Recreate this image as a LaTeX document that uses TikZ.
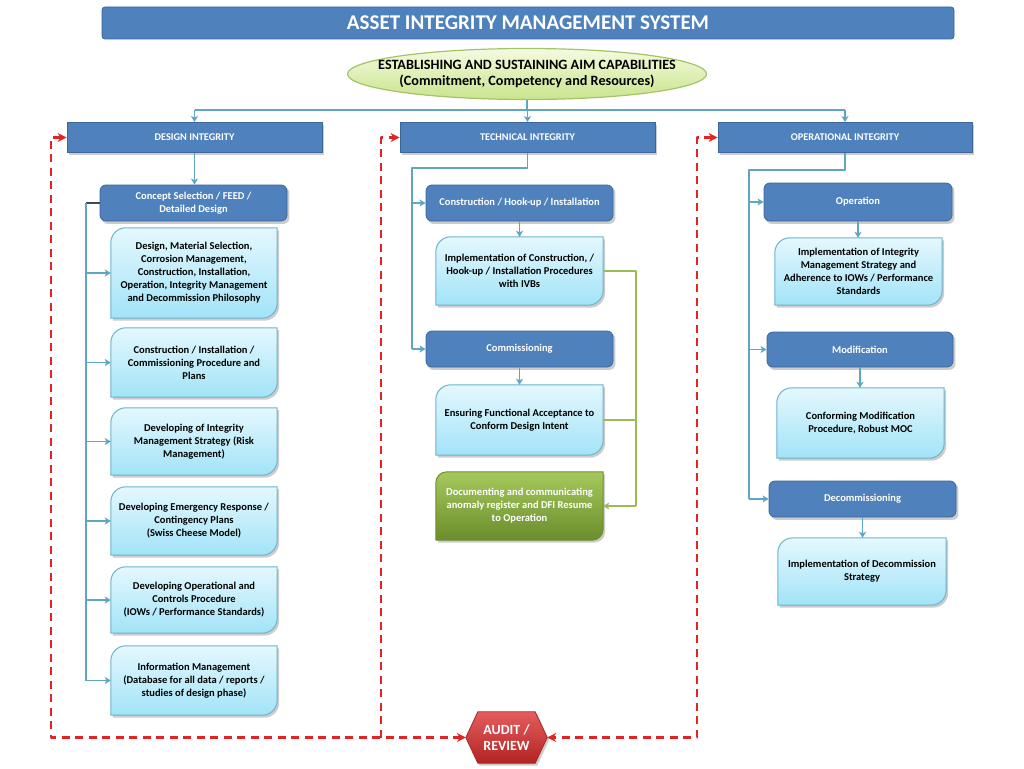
\documentclass[tikz,border=0pt]{standalone}
\usepackage{fontspec}
\setmainfont{Carlito}
\usetikzlibrary{arrows.meta,backgrounds,calc,shapes.geometric}
\definecolor{hblue}{HTML}{4F81BD}
\definecolor{hborder}{HTML}{3B679A}
\definecolor{cconn}{HTML}{5FA6C0}
\definecolor{cdark}{HTML}{3C4A55}
\definecolor{lbtop}{HTML}{E4F8FE}
\definecolor{lbbot}{HTML}{A2E3F8}
\definecolor{lbborder}{HTML}{6DB4CC}
\definecolor{grtop}{HTML}{A6C95C}
\definecolor{grbot}{HTML}{6A8D2C}
\definecolor{grborder}{HTML}{6E8F33}
\definecolor{gline}{HTML}{9BBB59}
\definecolor{rline}{HTML}{E22424}
\definecolor{etop}{HTML}{F5FBE0}
\definecolor{ebot}{HTML}{C9E48C}
\definecolor{eborder}{HTML}{A5C468}
\definecolor{hxtop}{HTML}{E45C5C}
\definecolor{hxbot}{HTML}{B32424}
\definecolor{hxborder}{HTML}{A52A2A}

% shape with rounded top-left and bottom-right corners
% #1 node, #2 style, #3 radius, #4 control offset
\newcommand\dshape[4]{%
\fill[black,opacity=.2] ([shift={(2pt,-2.5pt)}]#1.south west) -- ([shift={(2pt,-2.5pt)},yshift=-#3]#1.north west) .. controls ([shift={(2pt,-2.5pt)},yshift=-#4]#1.north west) and ([shift={(2pt,-2.5pt)},xshift=#4]#1.north west) .. ([shift={(2pt,-2.5pt)},xshift=#3]#1.north west) -- ([shift={(2pt,-2.5pt)}]#1.north east) -- ([shift={(2pt,-2.5pt)},yshift=#3]#1.south east) .. controls ([shift={(2pt,-2.5pt)},yshift=#4]#1.south east) and ([shift={(2pt,-2.5pt)},xshift=-#4]#1.south east) .. ([shift={(2pt,-2.5pt)},xshift=-#3]#1.south east) -- cycle;
\path[#2] (#1.south west) -- ([yshift=-#3]#1.north west) .. controls ([yshift=-#4]#1.north west) and ([xshift=#4]#1.north west) .. ([xshift=#3]#1.north west) -- (#1.north east) -- ([yshift=#3]#1.south east) .. controls ([yshift=#4]#1.south east) and ([xshift=-#4]#1.south east) .. ([xshift=-#3]#1.south east) -- cycle;
}
\newcommand\rshadow[2]{%
\fill[black,opacity=.2,rounded corners=#2] ([shift={(2pt,-2.5pt)}]#1.south west) rectangle ([shift={(2pt,-2.5pt)}]#1.north east);
}

\begin{document}
\begin{tikzpicture}[x=1pt,y=-1pt,
  txt/.style={font=\fontsize{10.5}{13}\selectfont\bfseries, align=center, inner sep=0pt},
  hdr/.style={draw=hborder, fill=hblue, text=white, line width=.8pt, inner sep=0pt,
     font=\fontsize{10.3}{12}\selectfont\bfseries},
  subbox/.style={txt, draw=hborder, fill=hblue, text=white, line width=.8pt, rounded corners=6pt},
  lbox/.style={txt, text=black},
  lshape/.style={top color=lbtop, bottom color=lbbot, draw=lbborder, line width=1pt},
  conn/.style={draw=cconn, line width=1.8pt, line join=round},
  arr/.style={-{Stealth[length=6pt,width=7pt,inset=1.5pt]}},
  gconn/.style={draw=gline, line width=1.6pt, line join=round},
  reddash/.style={draw=rline, line width=2.2pt, dash pattern=on 8pt off 5.5pt, line join=round},
  rtip/.style={{Stealth[length=9pt,width=9pt,inset=3pt]}-{Stealth[length=9pt,width=9pt,inset=3pt]}},
  rtipend/.style={-{Stealth[length=9pt,width=9pt,inset=3pt]}}
]
\useasboundingbox (0,0) rectangle (1024,768);
\begin{scope}[on background layer]
\fill[white] (0,0) rectangle (1024,768);
\end{scope}

% title and top
\node[draw=hborder, fill=hblue, text=white, rounded corners=3pt, line width=.8pt, inner sep=0pt,
  minimum width=852pt, minimum height=32pt, font=\fontsize{21}{24}\selectfont\bfseries] (title) at (528,23) {ASSET INTEGRITY MANAGEMENT SYSTEM};
\node[inner sep=0pt, minimum width=359pt, minimum height=51pt, align=center,
  font=\fontsize{14.2}{16.5}\selectfont\bfseries] (aim) at (527,74)
  {ESTABLISHING AND SUSTAINING AIM CAPABILITIES\\(Commitment, Competency and Resources)};

% integrity headers
\node[hdr, minimum width=255pt, minimum height=30pt] (DI) at (194.5,137.5) {DESIGN INTEGRITY};
\node[hdr, minimum width=255pt, minimum height=30pt] (TI) at (527.5,137.5) {TECHNICAL INTEGRITY};
\node[hdr, minimum width=254pt, minimum height=30pt] (OI) at (845,137.5) {OPERATIONAL INTEGRITY};

% left column
\node[subbox, minimum width=187pt, minimum height=36pt] (CS) at (193.5,203) {Concept Selection / FEED /\\Detailed Design};
\node[lbox, minimum width=166pt, minimum height=90pt] (L1) at (194,273) {Design, Material Selection,\\Corrosion Management,\\Construction, Installation,\\Operation, Integrity Management\\and Decommission Philosophy};
\node[lbox, minimum width=166pt, minimum height=69pt] (L2) at (194,362.5) {Construction / Installation /\\Commissioning Procedure and\\Plans};
\node[lbox, minimum width=166pt, minimum height=67pt] (L3) at (194,441.5) {Developing of Integrity\\Management Strategy (Risk\\Management)};
\node[lbox, minimum width=166pt, minimum height=68pt] (L4) at (194,521) {Developing Emergency Response /\\Contingency Plans\\(Swiss Cheese Model)};
\node[lbox, minimum width=166pt, minimum height=66pt] (L5) at (194,600) {Developing Operational and\\Controls Procedure\\(IOWs / Performance Standards)};
\node[lbox, minimum width=166pt, minimum height=69pt] (L6) at (194,680.5) {Information Management\\(Database for all data / reports /\\studies of design phase)};

% middle column
\node[subbox, minimum width=187pt, minimum height=36pt] (MCon) at (519.5,203) {Construction / Hook-up / Installation};
\node[lbox, minimum width=167pt, minimum height=68pt] (MImpl) at (519.5,271) {Implementation of Construction, /\\Hook-up / Installation Procedures\\with IVBs};
\node[subbox, minimum width=187pt, minimum height=36pt] (MCom) at (519.5,349) {Commissioning};
\node[lbox, minimum width=167pt, minimum height=70pt] (MEns) at (519.5,420) {Ensuring Functional Acceptance to\\Conform Design Intent};
\node[txt, text=white, minimum width=167pt, minimum height=68pt] (MGreen) at (519.5,506) {Documenting and communicating\\anomaly register and DFI Resume\\to Operation};

% right column
\node[subbox, minimum width=188pt, minimum height=38pt] (ROp) at (858,202) {Operation};
\node[lbox, minimum width=167pt, minimum height=67pt] (RImpl) at (858.5,271.5) {Implementation of Integrity\\Management Strategy and\\Adherence to IOWs / Performance\\Standards};
\node[subbox, minimum width=186pt, minimum height=35pt] (RMod) at (860,349.5) {Modification};
\node[lbox, minimum width=167pt, minimum height=70pt] (RConf) at (860.5,423) {Conforming Modification\\Procedure, Robust MOC};
\node[subbox, minimum width=187pt, minimum height=36pt] (RDec) at (862.5,499) {Decommissioning};
\node[lbox, minimum width=168pt, minimum height=67pt] (RDImpl) at (862,571.5) {Implementation of Decommission\\Strategy};

% audit
\node[txt, text=white, minimum width=81pt, minimum height=51pt, font=\fontsize{14}{16.5}\selectfont\bfseries] (audit) at (506.5,737.5) {AUDIT /\\REVIEW};

% shapes behind
\begin{scope}[on background layer]
\path[top color=etop, bottom color=ebot, draw=eborder, line width=1.2pt] (aim.center) ellipse [x radius=179.5pt, y radius=25.5pt];
\rshadow{DI}{0pt}\rshadow{TI}{0pt}\rshadow{OI}{0pt}
\rshadow{CS}{6pt}\rshadow{MCon}{6pt}\rshadow{MCom}{6pt}
\rshadow{ROp}{6pt}\rshadow{RMod}{6pt}\rshadow{RDec}{6pt}
\foreach \n in {L1,L2,L3,L4,L5,L6,MImpl,MEns,RImpl,RConf,RDImpl}{\dshape{\n}{lshape}{15pt}{6.7pt}}
\dshape{MGreen}{top color=grtop, bottom color=grbot, draw=grborder, line width=1pt}{11pt}{5pt}
\fill[black,opacity=.2] ([shift={(2pt,-2.5pt)}]audit.west) -- ([shift={(2pt,-2.5pt)},xshift=12pt]audit.north west) -- ([shift={(2pt,-2.5pt)},xshift=-12pt]audit.north east) -- ([shift={(2pt,-2.5pt)}]audit.east) -- ([shift={(2pt,-2.5pt)},xshift=-12pt]audit.south east) -- ([shift={(2pt,-2.5pt)},xshift=12pt]audit.south west) -- cycle;
\path[top color=hxtop, bottom color=hxbot, draw=hxborder, line width=.8pt] (audit.west) -- ([xshift=12pt]audit.north west) -- ([xshift=-12pt]audit.north east) -- (audit.east) -- ([xshift=-12pt]audit.south east) -- ([xshift=12pt]audit.south west) -- cycle;
\end{scope}

% top connectors
\coordinate (hL) at (194.5,110);
\coordinate (hM) at (527,110);
\coordinate (hR) at (845,110);
\draw[conn] (aim.south) -- (hM);
\draw[conn] (hL) -- (hR);
\draw[conn,arr] (hL) -- (DI.north);
\draw[conn,arr] (TI.north |- hM) -- (TI.north);
\draw[conn,arr] (hR) -- (OI.north);

% left connectors
\coordinate (lt) at (86,203);
\coordinate (lb) at (86,680.5);
\draw[conn,arr] (DI.south) -- (DI.south |- CS.north);
\draw[draw=cdark, line width=1.8pt] (CS.west) -- (lt);
\draw[conn] (lt) -- (lb);
\foreach \n in {L1,L2,L3,L4,L5,L6}{\draw[conn,arr] (lt |- \n.west) -- (\n.west);}

% middle connectors
\coordinate (mt) at (527.5,168);
\coordinate (mc) at (412,168);
\coordinate (mb) at (412,349);
\draw[conn] (TI.south) -- (mt) -- (mc) -- (mb);
\draw[conn,arr] (mc |- MCon.west) -- (MCon.west);
\draw[conn,arr] (mb) -- (MCom.west);
\draw[conn,arr] (MCon.south) -- (MCon.south |- MImpl.north);
\draw[conn,arr] (MCom.south) -- (MCom.south |- MEns.north);

% green connectors
\coordinate (g1) at (636,271);
\coordinate (g2) at (636,506);
\draw[gconn] (MImpl.east) -- (g1) -- (g2);
\draw[gconn] (MEns.east) -- (MEns.east -| g1);
\draw[gconn,-{Stealth[length=6pt,width=7pt,inset=1.5pt]}] (g2) -- (MGreen.east);

% right connectors
\coordinate (rt) at (845,170);
\coordinate (rc) at (749,170);
\coordinate (rb) at (749,499);
\draw[conn] (OI.south) -- (rt) -- (rc) -- (rb);
\draw[conn,arr] (rc |- ROp.west) -- (ROp.west);
\draw[conn,arr] (rc |- RMod.west) -- (RMod.west);
\draw[conn,arr] (rb) -- (RDec.west);
\draw[conn,arr] (ROp.south) -- (ROp.south |- RImpl.north);
\draw[conn,arr] (RMod.south) -- (RMod.south |- RConf.north);
\draw[conn,arr] (RDec.south) -- (RDec.south |- RDImpl.north);

% red dashed audit loops
\coordinate (rl1) at (51,137.5);
\coordinate (rl2) at (51,737.5);
\coordinate (rm1) at (381,137.5);
\coordinate (rm2) at (381,737.5);
\coordinate (rr1) at (697,137.5);
\coordinate (rr2) at (697,737.5);
\draw[reddash,rtip] (DI.west) -- (rl1) -- (rl2) -- (audit.west);
\draw[reddash,rtipend] (rm2) -- (rm1) -- (TI.west);
\draw[reddash,rtip] (OI.west) -- (rr1) -- (rr2) -- (audit.east);
\end{tikzpicture}
\end{document}
